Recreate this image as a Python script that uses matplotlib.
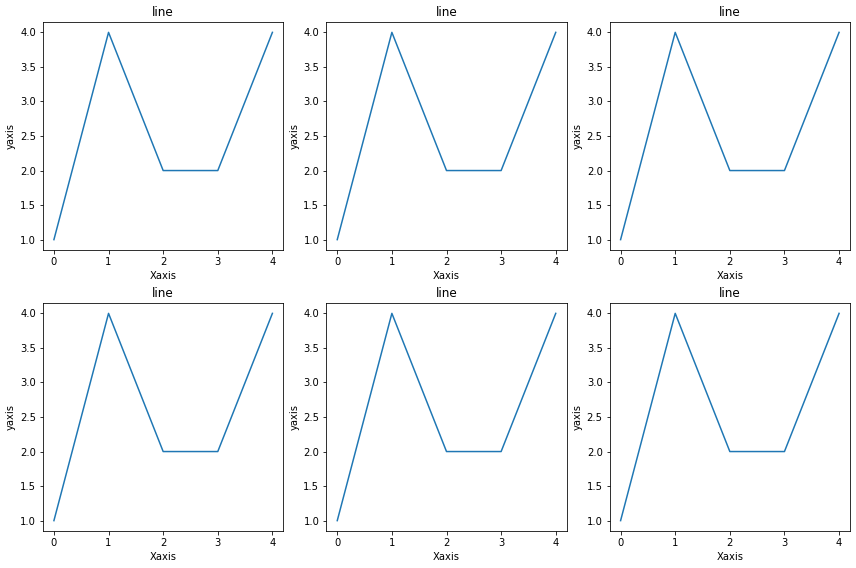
import matplotlib
matplotlib.use("Agg")
import matplotlib.pyplot as plt

x_vals = [0, 1, 2, 3, 4]
y_vals = [1, 4, 2, 2, 4]
title = "line"
x_label = "Xaxis"
y_label = "yaxis"

fig, axes = plt.subplots(2, 3, figsize=(856 / 72, 568 / 72), dpi=72)

for ax in axes.flat:
    ax.plot(x_vals, y_vals)
    ax.set_title(title)
    ax.set_xlabel(x_label)
    ax.set_ylabel(y_label)

plt.tight_layout(pad=0.6)
plt.savefig("out.png", dpi=72)
